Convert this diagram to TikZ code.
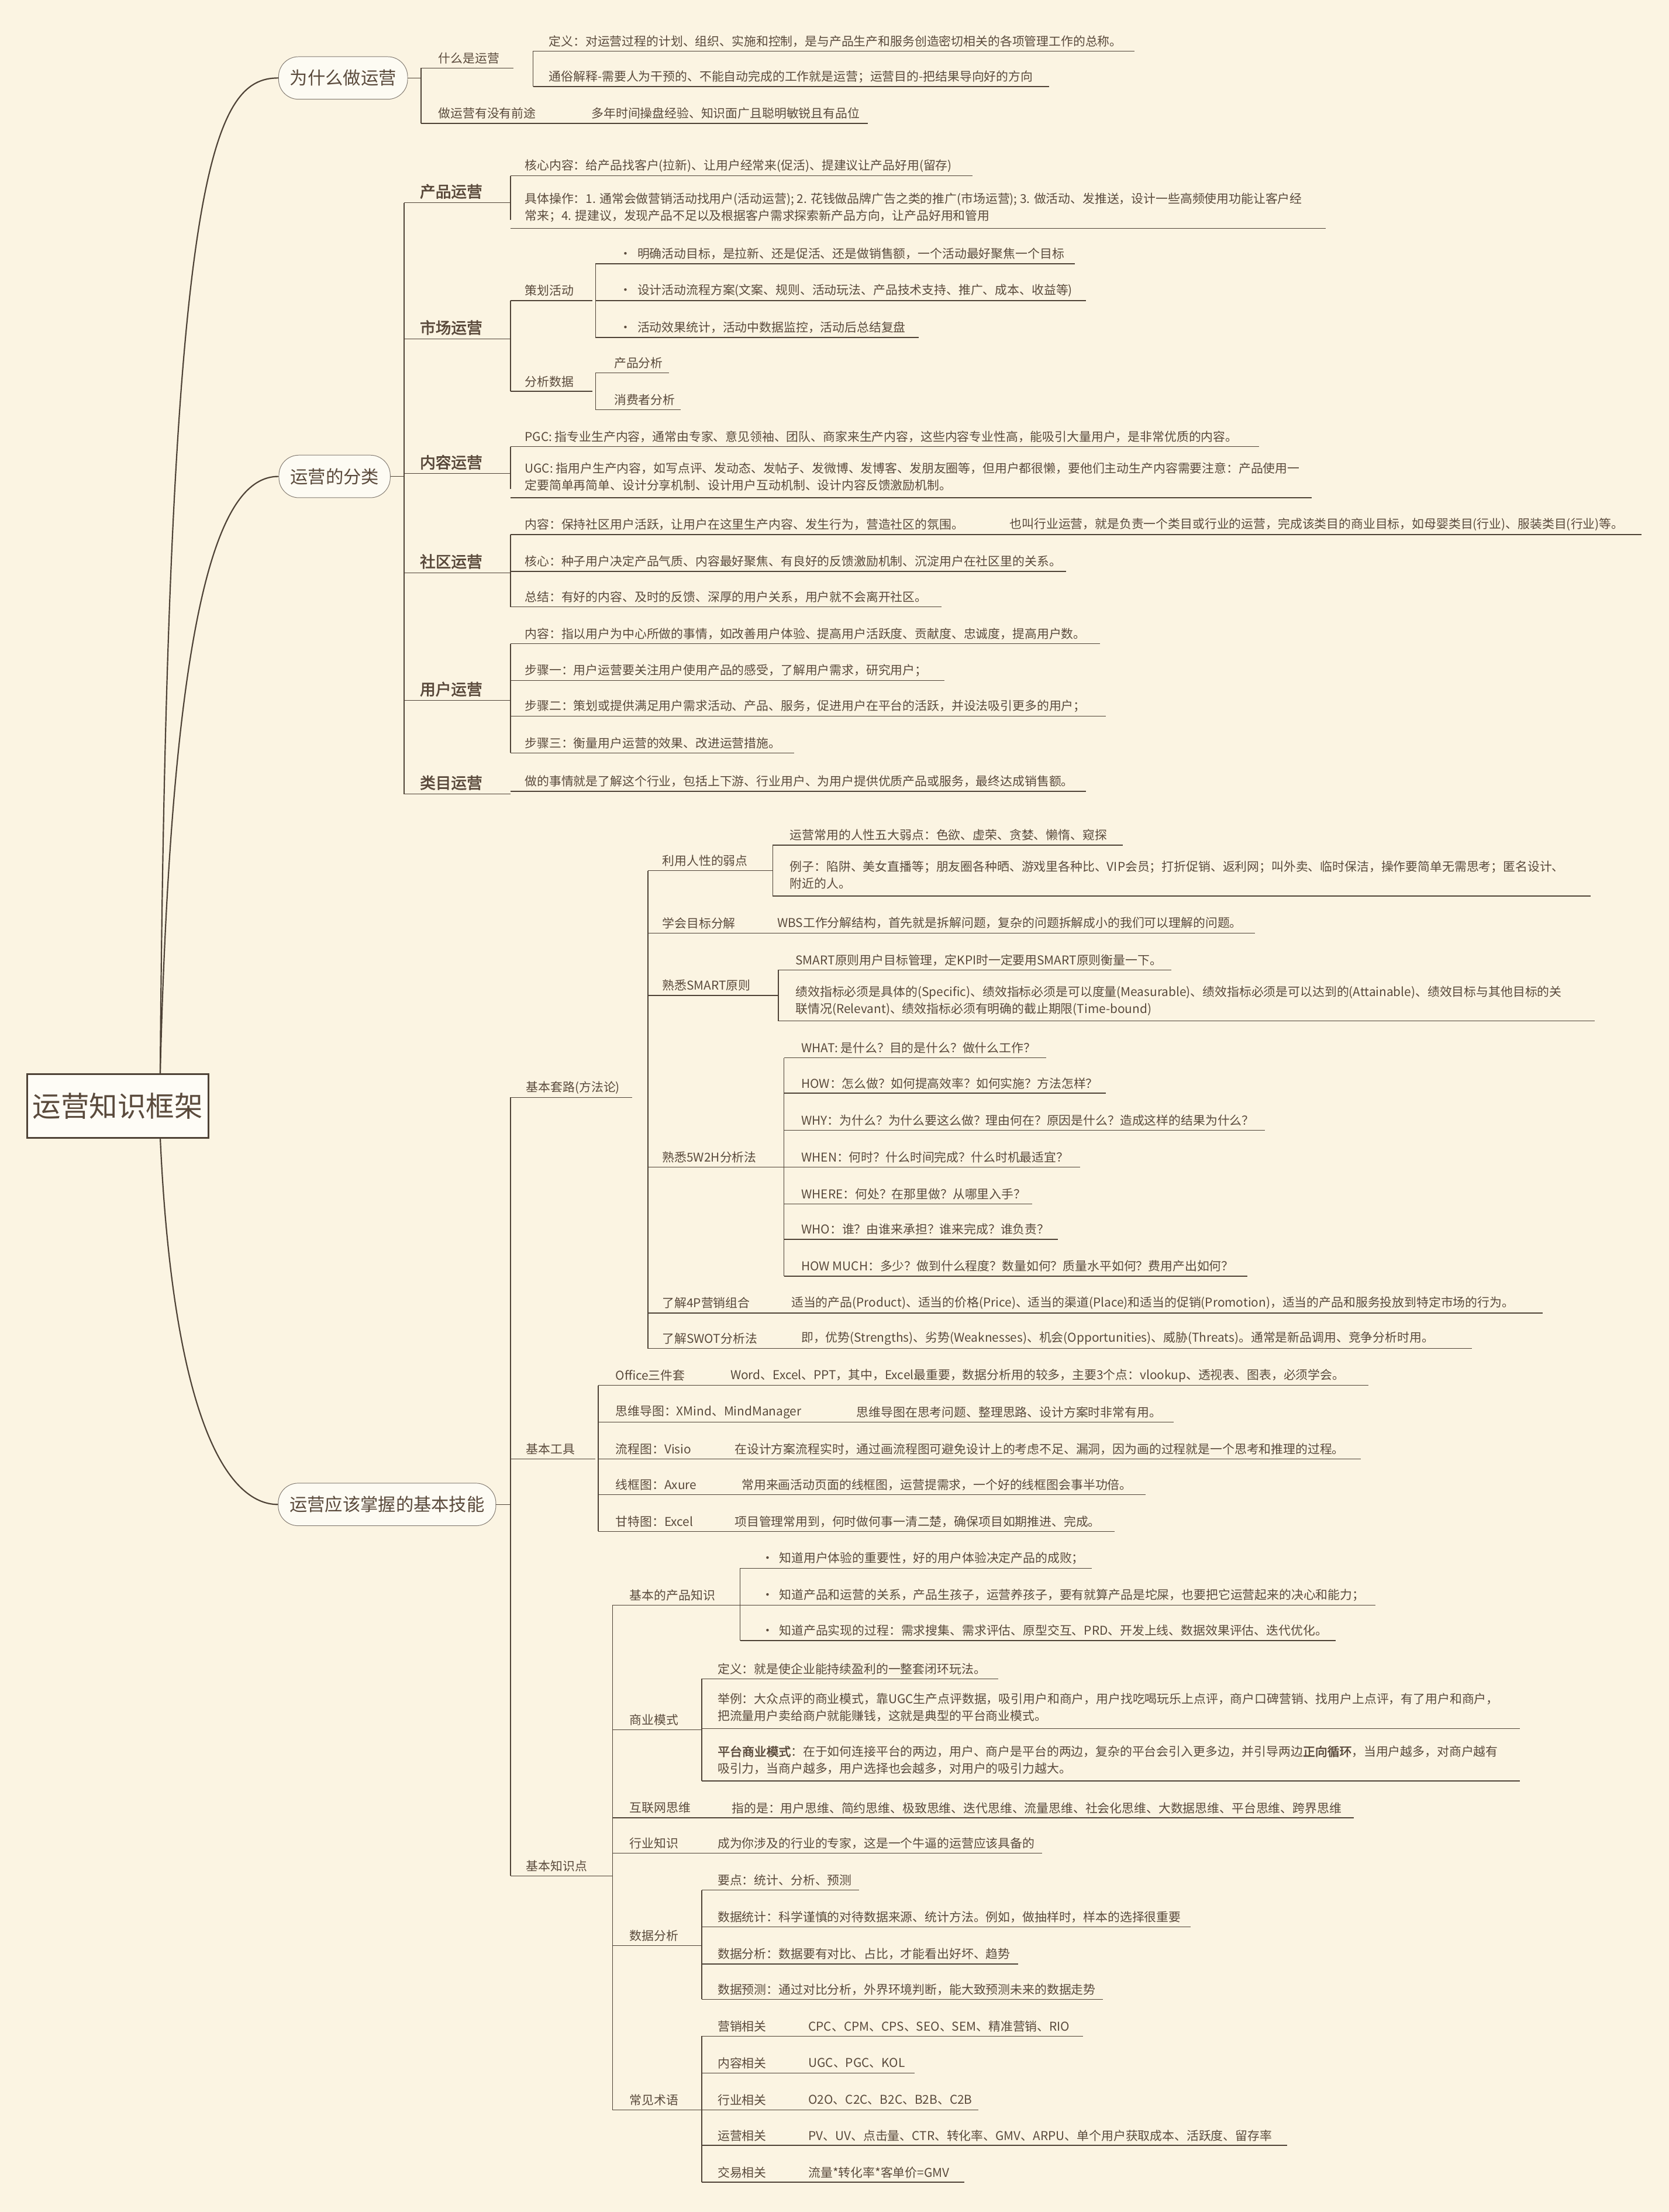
\documentclass[tikz,border=0pt]{standalone}
\usepackage{fontspec}
\setmainfont[AutoFakeBold=2.5]{Noto Sans CJK SC}
\usetikzlibrary{calc,positioning}
\definecolor{bgc}{HTML}{FBF4E2}
\definecolor{txt}{HTML}{5A4A3C}
\definecolor{lnc}{HTML}{4E4236}

% a leaf: name, bar x, text x, y, end of underline, text
\newcommand\leaf[6]{%
  \node[leaf] (#1) at (#3,#4) {#6};
  \draw[link] (#2,#4+7) -- (#5,#4+7);}
% a two-line leaf
\newcommand\leafii[7]{%
  \node[leaf,anchor=north west,align=left] (#1) at (#3,#4-6) {#6\\#7};
  \draw[link] (#2,#4+19) -- (#5,#4+19);}
% a bold category
\newcommand\cat[4]{%
  \node[catg] (#1) at (296,#2) {#3};
  \draw[link] (285,#2+8) -- (#4,#2+8);}
% a vertical bar
\newcommand\vbar[3]{\draw[link] (#1,#2+7) -- (#1,#3+7);}

\begin{document}
\begin{tikzpicture}[x=1pt,y=-1pt]

\tikzset{
leaf/.style={anchor=west,inner sep=0pt,text=txt,font=\fontsize{8.6}{12}\selectfont},
catg/.style={anchor=west,inner sep=0pt,text=txt,font=\fontsize{11}{13}\selectfont\bfseries},
link/.style={draw=lnc,line width=0.6pt},
oval/.style={draw=lnc!70,fill=white!60!bgc,rounded corners=14pt,minimum height=30pt,inner xsep=8pt,text=txt,font=\fontsize{12.5}{14}\selectfont},
branch/.style={draw=lnc,line width=0.9pt}
}

\fill[bgc] (0,0) rectangle (1177,1560);

% Root and main branches
\node[draw=lnc,line width=1.2pt,fill=white!70!bgc,minimum width=128pt,minimum height=45pt,text=txt,font=\fontsize{20}{22}\selectfont] (root) at (83,780) {运营知识框架};
\node[oval] (why) at (242,55) {为什么做运营};
\node[oval] (kind) at (236,336) {运营的分类};
\node[oval] (skill) at (273,1061) {运营应该掌握的基本技能};
\coordinate (rt) at (113,757);
\coordinate (rb) at (113,802);
\draw[branch] (rt) .. controls (118,120) and (150,55) .. (why.west);
\draw[branch] (rt) .. controls (122,400) and (160,336) .. (kind.west);
\draw[branch] (rb) .. controls (122,1000) and (160,1061) .. (skill.west);

% Why
\draw[link] (why.east) -- (297,55);
\vbar{297}{41}{80}
\leaf{what}{297}{309}{41}{362}{什么是运营}
\leaf{future}{297}{309}{80}{415}{做运营有没有前途}
\vbar{376}{29}{54}
\leaf{def}{376}{387}{29}{800}{定义：对运营过程的计划、组织、实施和控制，是与产品生产和服务创造密切相关的各项管理工作的总称。}
\leaf{plain}{376}{387}{54}{740}{通俗解释-需要人为干预的、不能自动完成的工作就是运营；运营目的-把结果导向好的方向}
\leaf{years}{415}{417}{80}{612}{多年时间操盘经验、知识面广且聪明敏锐且有品位}

% Kinds
\draw[link] (kind.east) -- (285,336);
\draw[link] (285,143) -- (285,560);
\cat{prod}{135}{产品运营}{360}
\cat{mkt}{231}{市场运营}{360}
\cat{cont}{326}{内容运营}{360}
\cat{comm}{396}{社区运营}{360}
\cat{user}{486}{用户运营}{360}
\cat{catop}{552}{类目运营}{360}

\vbar{360}{117}{148}
\leaf{pcore}{360}{370}{117}{686}{核心内容：给产品找客户(拉新)、让用户经常来(促活)、提建议让产品好用(留存)}
\leafii{pdo}{360}{370}{142}{935}{具体操作：1. 通常会做营销活动找用户(活动运营); 2. 花钱做品牌广告之类的推广(市场运营); 3. 做活动、发推送，设计一些高频使用功能让客户经}{常来；4. 提建议，发现产品不足以及根据客户需求探索新产品方向，让产品好用和管用}

\vbar{360}{205}{269}
\leaf{plan}{360}{370}{205}{418}{策划活动}
\leaf{ana}{360}{370}{269}{418}{分析数据}
\vbar{420}{179}{231}
\leaf{plan1}{420}{437}{179}{758}{•\ \ 明确活动目标，是拉新、还是促活、还是做销售额，一个活动最好聚焦一个目标}
\leaf{plan2}{420}{437}{205}{766}{•\ \ 设计活动流程方案(文案、规则、活动玩法、产品技术支持、推广、成本、收益等)}
\leaf{plan3}{420}{437}{231}{648}{•\ \ 活动效果统计，活动中数据监控，活动后总结复盘}
\vbar{420}{256}{282}
\leaf{ana1}{420}{433}{256}{472}{产品分析}
\leaf{ana2}{420}{433}{282}{480}{消费者分析}

\vbar{360}{308}{338}
\leaf{pgc}{360}{370}{308}{888}{PGC: 指专业生产内容，通常由专家、意见领袖、团队、商家来生产内容，这些内容专业性高，能吸引大量用户，是非常优质的内容。}
\leafii{ugc}{360}{370}{332}{925}{UGC: 指用户生产内容，如写点评、发动态、发帖子、发微博、发博客、发朋友圈等，但用户都很懒，要他们主动生产内容需要注意：产品使用一}{定要简单再简单、设计分享机制、设计用户互动机制、设计内容反馈激励机制。}

\vbar{360}{370}{421}
\leaf{comm1}{360}{370}{370}{1158}{内容：保持社区用户活跃，让用户在这里生产内容、发生行为，营造社区的氛围。}
\node[leaf] (catdef) at (712,370) {也叫行业运营，就是负责一个类目或行业的运营，完成该类目的商业目标，如母婴类目(行业)、服装类目(行业)等。};
\leaf{comm2}{360}{370}{396}{752}{核心：种子用户决定产品气质、内容最好聚焦、有良好的反馈激励机制、沉淀用户在社区里的关系。}
\leaf{comm3}{360}{370}{421}{664}{总结：有好的内容、及时的反馈、深厚的用户关系，用户就不会离开社区。}

\vbar{360}{447}{524}
\leaf{user1}{360}{370}{447}{776}{内容：指以用户为中心所做的事情，如改善用户体验、提高用户活跃度、贡献度、忠诚度，提高用户数。}
\leaf{user2}{360}{370}{473}{666}{步骤一：用户运营要关注用户使用产品的感受，了解用户需求，研究用户；}
\leaf{user3}{360}{370}{498}{780}{步骤二：策划或提供满足用户需求活动、产品、服务，促进用户在平台的活跃，并设法吸引更多的用户；}
\leaf{user4}{360}{370}{524}{560}{步骤三：衡量用户运营的效果、改进运营措施。}
\leaf{cat1}{360}{370}{551}{766}{做的事情就是了解这个行业，包括上下游、行业用户、为用户提供优质产品或服务，最终达成销售额。}

% Skills
\draw[link] (skill.east) -- (360,1061);
\vbar{360}{767}{1316}
\leaf{method}{360}{371}{767}{446}{基本套路(方法论)}
\leaf{tools}{360}{371}{1022}{420}{基本工具}
\leaf{know}{360}{371}{1316}{432}{基本知识点}

\vbar{457}{607}{944}
\leaf{weak}{457}{467}{607}{545}{利用人性的弱点}
\leaf{wbs}{457}{467}{651}{545}{学会目标分解}
\leaf{smart}{457}{467}{695}{549}{熟悉SMART原则}
\leaf{fivew}{457}{467}{816}{553}{熟悉5W2H分析法}
\leaf{fourp}{457}{467}{919}{552}{了解4P营销组合}
\leaf{swot}{457}{467}{944}{560}{了解SWOT分析法}
\vbar{545}{589}{625}
\leaf{weak1}{545}{557}{589}{792}{运营常用的人性五大弱点：色欲、虚荣、贪婪、懒惰、窥探}
\leafii{weak2}{545}{557}{613}{1122}{例子：陷阱、美女直播等；朋友圈各种晒、游戏里各种比、VIP会员；打折促销、返利网；叫外卖、临时保洁，操作要简单无需思考；匿名设计、}{附近的人。}
\leaf{wbs1}{545}{548}{651}{885}{WBS工作分解结构，首先就是拆解问题，复杂的问题拆解成小的我们可以理解的问题。}
\vbar{549}{677}{713}
\leaf{smart1}{549}{561}{677}{826}{SMART原则用户目标管理，定KPI时一定要用SMART原则衡量一下。}
\leafii{smart2}{549}{561}{701}{1125}{绩效指标必须是具体的(Specific)、绩效指标必须是可以度量(Measurable)、绩效指标必须是可以达到的(Attainable)、绩效目标与其他目标的关}{联情况(Relevant)、绩效指标必须有明确的截止期限(Time-bound)}
\vbar{553}{739}{893}
\leaf{w1}{553}{565}{739}{738}{WHAT: 是什么？目的是什么？做什么工作？}
\leaf{w2}{553}{565}{764}{780}{HOW：怎么做？如何提高效率？如何实施？方法怎样？}
\leaf{w3}{553}{565}{790}{892}{WHY：为什么？为什么要这么做？理由何在？原因是什么？造成这样的结果为什么？}
\leaf{w4}{553}{565}{816}{762}{WHEN：何时？什么时间完成？什么时机最适宜？}
\leaf{w5}{553}{565}{842}{728}{WHERE：何处？在那里做？从哪里入手？}
\leaf{w6}{553}{565}{867}{746}{WHO：谁？由谁来承担？谁来完成？谁负责？}
\leaf{w7}{553}{565}{893}{880}{HOW MUCH：多少？做到什么程度？数量如何？质量水平如何？费用产出如何？}
\leaf{fourp1}{552}{558}{919}{1088}{适当的产品(Product)、适当的价格(Price)、适当的渠道(Place)和适当的促销(Promotion)，适当的产品和服务投放到特定市场的行为。}
\leaf{swot1}{560}{565}{944}{1038}{即，优势(Strengths)、劣势(Weaknesses)、机会(Opportunities)、威胁(Threats)。通常是新品调用、竞争分析时用。}

\vbar{422}{970}{1073}
\leaf{office}{422}{434}{970}{512}{Office三件套}
\leaf{office1}{512}{515}{970}{965}{Word、Excel、PPT，其中，Excel最重要，数据分析用的较多，主要3个点：vlookup、透视表、图表，必须学会。}
\leaf{mind}{422}{434}{996}{600}{思维导图：XMind、MindManager}
\leaf{mind1}{600}{604}{996}{828}{思维导图在思考问题、整理思路、设计方案时非常有用。}
\leaf{flow}{422}{434}{1022}{515}{流程图：Visio}
\leaf{flow1}{515}{518}{1022}{960}{在设计方案流程实时，通过画流程图可避免设计上的考虑不足、漏洞，因为画的过程就是一个思考和推理的过程。}
\leaf{wire}{422}{434}{1047}{520}{线框图：Axure}
\leaf{wire1}{520}{523}{1047}{808}{常用来画活动页面的线框图，运营提需求，一个好的线框图会事半功倍。}
\leaf{gantt}{422}{434}{1073}{515}{甘特图：Excel}
\leaf{gantt1}{515}{518}{1073}{786}{项目管理常用到，何时做何事一清二楚，确保项目如期推进、完成。}

\vbar{432}{1125}{1481}
\leaf{prodk}{432}{444}{1125}{522}{基本的产品知识}
\leaf{biz}{432}{444}{1213}{495}{商业模式}
\leaf{net}{432}{444}{1275}{512}{互联网思维}
\leaf{ind}{432}{444}{1300}{503}{行业知识}
\leaf{data}{432}{444}{1365}{495}{数据分析}
\leaf{term}{432}{444}{1481}{495}{常见术语}
\vbar{522}{1099}{1150}
\leaf{pk1}{522}{537}{1099}{770}{•\ \ 知道用户体验的重要性，好的用户体验决定产品的成败；}
\leaf{pk2}{522}{537}{1125}{970}{•\ \ 知道产品和运营的关系，产品生孩子，运营养孩子，要有就算产品是坨屎，也要把它运营起来的决心和能力；}
\leaf{pk3}{522}{537}{1150}{942}{•\ \ 知道产品实现的过程：需求搜集、需求评估、原型交互、PRD、开发上线、数据效果评估、迭代优化。}
\vbar{495}{1177}{1249}
\leaf{biz1}{495}{506}{1177}{704}{定义：就是使企业能持续盈利的一整套闭环玩法。}
\leafii{biz2}{495}{506}{1200}{1072}{举例：大众点评的商业模式，靠UGC生产点评数据，吸引用户和商户，用户找吃喝玩乐上点评，商户口碑营销、找用户上点评，有了用户和商户，}{把流量用户卖给商户就能赚钱，这就是典型的平台商业模式。}
\leafii{biz3}{495}{506}{1237}{1072}{\textbf{平台商业模式}：在于如何连接平台的两边，用户、商户是平台的两边，复杂的平台会引入更多边，并引导两边\textbf{正向循环}，当用户越多，对商户越有}{吸引力，当商户越多，用户选择也会越多，对用户的吸引力越大。}
\leaf{net1}{512}{516}{1275}{955}{指的是：用户思维、简约思维、极致思维、迭代思维、流量思维、社会化思维、大数据思维、平台思维、跨界思维}
\leaf{ind1}{503}{506}{1300}{735}{成为你涉及的行业的专家，这是一个牛逼的运营应该具备的}
\vbar{495}{1326}{1403}
\leaf{data1}{495}{506}{1326}{606}{要点：统计、分析、预测}
\leaf{data2}{495}{506}{1352}{840}{数据统计：科学谨慎的对待数据来源、统计方法。例如，做抽样时，样本的选择很重要}
\leaf{data3}{495}{506}{1378}{718}{数据分析：数据要有对比、占比，才能看出好坏、趋势}
\leaf{data4}{495}{506}{1403}{778}{数据预测：通过对比分析，外界环境判断，能大致预测未来的数据走势}
\vbar{495}{1429}{1532}
\leaf{t1}{495}{506}{1429}{568}{营销相关}
\leaf{t1a}{568}{570}{1429}{764}{CPC、CPM、CPS、SEO、SEM、精准营销、RIO}
\leaf{t2}{495}{506}{1455}{568}{内容相关}
\leaf{t2a}{568}{570}{1455}{645}{UGC、PGC、KOL}
\leaf{t3}{495}{506}{1481}{568}{行业相关}
\leaf{t3a}{568}{570}{1481}{690}{O2O、C2C、B2C、B2B、C2B}
\leaf{t4}{495}{506}{1506}{568}{运营相关}
\leaf{t4a}{568}{570}{1506}{908}{PV、UV、点击量、CTR、转化率、GMV、ARPU、单个用户获取成本、活跃度、留存率}
\leaf{t5}{495}{506}{1532}{568}{交易相关}
\leaf{t5a}{568}{570}{1532}{680}{流量*转化率*客单价=GMV}

\end{tikzpicture}
\end{document}
